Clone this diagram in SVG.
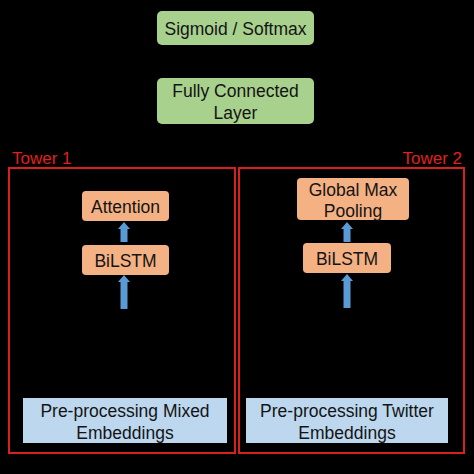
<svg xmlns="http://www.w3.org/2000/svg" width="474" height="474" viewBox="0 0 474 474">
<style>
text{font-family:"Liberation Sans",Arial,sans-serif;font-size:17.5px;fill:#141414;text-anchor:middle}
.g{fill:#a9d18e}
.o{fill:#f4b183}
.b{fill:#bdd7ee}
.tower{fill:none;stroke:#d9201f;stroke-width:2}
.tl{fill:#e0201f;font-size:17px}
.arr{fill:#5b9bd5}
</style>
<rect width="474" height="474" fill="#000"/>
<g id="sigmoid"><rect class="g" x="157" y="11" width="157" height="34" rx="5"/><text x="235.5" y="34.5">Sigmoid / Softmax</text></g>
<g id="fc"><rect class="g" x="157" y="78" width="157" height="46" rx="5"/><text x="235.5" y="97">Fully Connected</text><text x="235.5" y="119">Layer</text></g>
<g id="tower1"><rect class="tower" x="9" y="168" width="226" height="285"/><text class="tl" x="12" y="164" style="text-anchor:start">Tower 1</text></g>
<g id="tower2"><rect class="tower" x="239" y="168" width="225" height="285"/><text class="tl" x="462" y="164" style="text-anchor:end">Tower 2</text></g>
<g id="attention"><rect class="o" x="82" y="191" width="87" height="30" rx="4"/><text x="125.5" y="212.5">Attention</text></g>
<g id="bilstm1"><rect class="o" x="82" y="245" width="87" height="30" rx="4"/><text x="125.5" y="266.5">BiLSTM</text></g>
<g id="gmp"><rect class="o" x="297" y="178" width="112" height="42" rx="4"/><text x="353" y="196">Global Max</text><text x="353" y="216.5">Pooling</text></g>
<g id="bilstm2"><rect class="o" x="303" y="243" width="88" height="30" rx="4"/><text x="347" y="264.5">BiLSTM</text></g>
<g id="pre1"><rect class="b" x="23" y="398" width="204" height="45"/><text x="125" y="416.5">Pre-processing Mixed</text><text x="125" y="439">Embeddings</text></g>
<g id="pre2"><rect class="b" x="246" y="398" width="202" height="45"/><text x="347" y="416.5">Pre-processing Twitter</text><text x="347" y="439">Embeddings</text></g>
<g id="connectors">
<path class="arr" d="M120.5,242V229H118L124,222L130,229H127.5V242Z"/>
<path class="arr" d="M120.5,309V282H118L124,275L130,282H127.5V309Z"/>
<path class="arr" d="M343.5,242V229H341L347,222L353,229H350.5V242Z"/>
<path class="arr" d="M343.5,308V281H341L347,274L353,281H350.5V308Z"/>
</g>
</svg>
